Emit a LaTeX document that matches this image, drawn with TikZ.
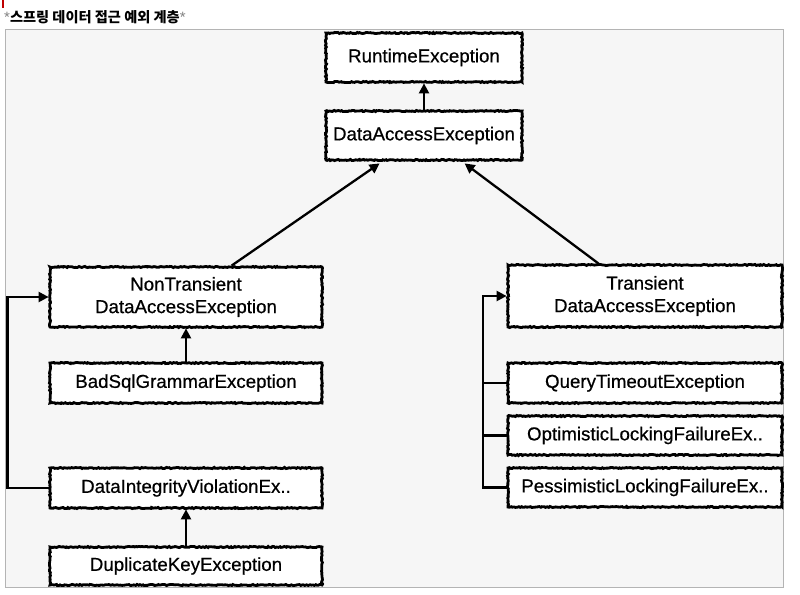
\documentclass[tikz,border=0pt]{standalone}
\usepackage{fontspec}
\setmainfont{Liberation Sans}
\newfontfamily\boxfont{Liberation Sans}[FakeBold=0.6]
\newfontfamily\krfont{Noto Sans CJK KR}
\usetikzlibrary{arrows.meta,calc,decorations.pathmorphing}
\definecolor{framebg}{HTML}{F6F6F6}
\definecolor{frameline}{HTML}{B4B4B4}
\begin{document}
\begin{tikzpicture}[x=1pt,y=-1pt,
  exbox/.style={draw=black, fill=white, line width=2.8pt, inner sep=0pt,
    align=center, font=\boxfont\fontsize{18.7}{22.5}\selectfont,
    decorate, decoration={random steps,segment length=1.5pt,amplitude=0.6pt}},
  arr/.style={line width=2.3pt, -{Triangle[length=10pt,width=10pt]}},
  ln/.style={line width=2.3pt}]
\useasboundingbox (0,0) rectangle (800,594);
\fill[white] (0,0) rectangle (800,594);
\draw[frameline, fill=framebg, line width=1pt] (5,30) rectangle (783,587);
\draw[red!75!black, line width=1.2pt] (3,0) -- (3,8);
\node[anchor=west, inner sep=0pt] (title) at (4,17)
  {\textcolor{gray}{\fontsize{15}{17}\selectfont *}{\krfont\bfseries\fontsize{14.2}{17}\selectfont 스프링 데이터 접근 예외 계층}\textcolor{gray}{\fontsize{15}{17}\selectfont *}};

\node[exbox, minimum width=196pt, minimum height=49pt] (rt) at (424,57.5) {RuntimeException};
\node[exbox, minimum width=196pt, minimum height=49pt] (dae) at (424,135.5) {DataAccessException};

\node[exbox, minimum width=272pt, minimum height=60pt] (nt) at (186,297) {NonTransient\\DataAccessException};
\node[exbox, minimum width=272pt, minimum height=40pt] (bad) at (186,383) {BadSqlGrammarException};
\node[exbox, minimum width=272pt, minimum height=40pt] (dv) at (186,488) {DataIntegrityViolationEx..};
\node[exbox, minimum width=272pt, minimum height=38pt] (dup) at (186,566) {DuplicateKeyException};

\node[exbox, minimum width=274pt, minimum height=62pt] (tr) at (645,296) {Transient\\DataAccessException};
\node[exbox, minimum width=274pt, minimum height=40pt] (qt) at (645,383) {QueryTimeoutException};
\node[exbox, minimum width=274pt, minimum height=39pt] (opt) at (645,435.5) {OptimisticLockingFailureEx..};
\node[exbox, minimum width=274pt, minimum height=39pt] (pes) at (645,487.5) {PessimisticLockingFailureEx..};

\draw[arr] (dae.north) -- (rt.south);
\draw[arr] ($(nt.north west)+(183,0)$) -- ($(dae.south west)+(55,2)$);
\draw[arr] ($(tr.north west)+(92,0)$) -- ($(dae.south west)+(140,2)$);
\draw[arr] (bad.north) -- (nt.south);
\draw[arr] (dup.north) -- (dv.south);

\coordinate (lx) at (7.5,0);
\draw[arr] (dv.west) -- (dv.west -| lx) |- (nt.west);

\coordinate (rx) at (483,0);
\draw[arr] (pes.west) -- (pes.west -| rx) |- (tr.west);
\draw[ln] (qt.west) -- (qt.west -| rx);
\draw[ln] (opt.west) -- (opt.west -| rx);
\end{tikzpicture}
\end{document}
